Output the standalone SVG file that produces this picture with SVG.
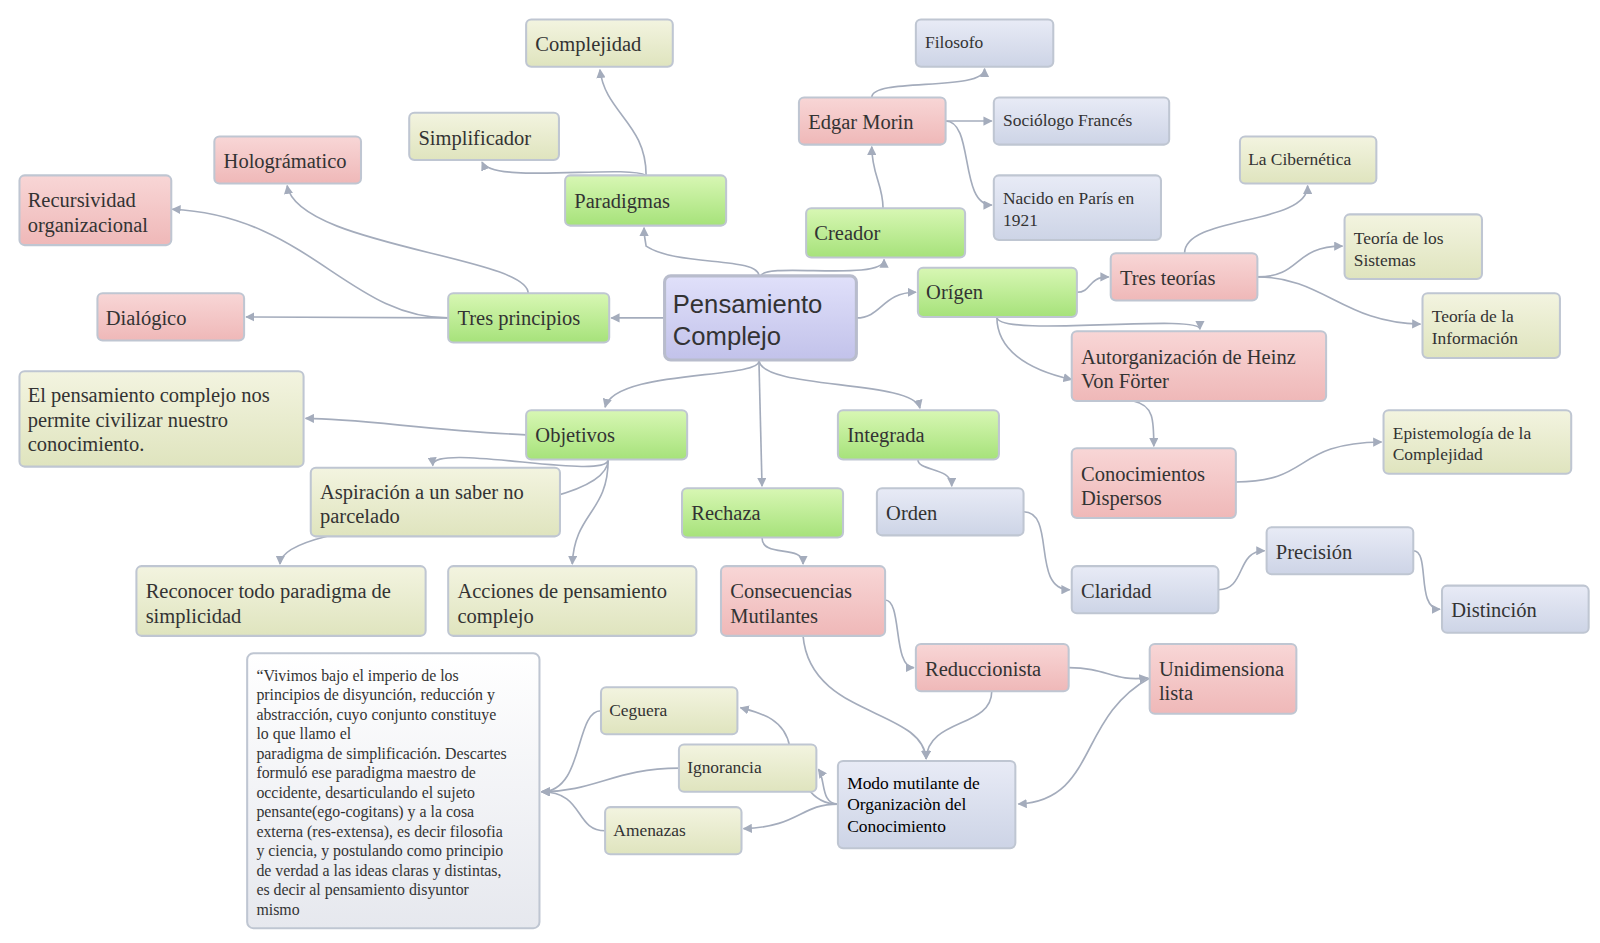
<svg xmlns="http://www.w3.org/2000/svg" width="1600" height="943" viewBox="0 0 1600 943">
<defs>
<linearGradient id="gG" x1="0" y1="0" x2="0" y2="1"><stop offset="0" stop-color="#d8f7b4"/><stop offset="1" stop-color="#a6e27a"/></linearGradient>
<linearGradient id="gP" x1="0" y1="0" x2="0" y2="1"><stop offset="0" stop-color="#f8d6d6"/><stop offset="1" stop-color="#efb8b8"/></linearGradient>
<linearGradient id="gY" x1="0" y1="0" x2="0" y2="1"><stop offset="0" stop-color="#f3f4e0"/><stop offset="1" stop-color="#dfe4be"/></linearGradient>
<linearGradient id="gB" x1="0" y1="0" x2="0" y2="1"><stop offset="0" stop-color="#e8ebf6"/><stop offset="1" stop-color="#cdd4e6"/></linearGradient>
<linearGradient id="gC" x1="0" y1="0" x2="0" y2="1"><stop offset="0" stop-color="#e0e0fa"/><stop offset="1" stop-color="#c2c2ea"/></linearGradient>
<linearGradient id="gW" x1="0" y1="0" x2="0" y2="1"><stop offset="0" stop-color="#ffffff"/><stop offset="1" stop-color="#e6e8ee"/></linearGradient>
<marker id="a" viewBox="0 0 10 10" refX="9" refY="5" markerWidth="9" markerHeight="9" orient="auto" markerUnits="userSpaceOnUse"><path d="M0,0 L10,5 L0,10 Z" fill="#a4acbc"/></marker>
</defs>
<style>
rect{stroke:#bfc6d2;stroke-width:2}
.g{fill:url(#gG)}.p{fill:url(#gP)}.y{fill:url(#gY)}.b{fill:url(#gB)}.c{fill:url(#gC);stroke:#b8bccc;stroke-width:3}.w{fill:url(#gW)}
text{font-family:"Liberation Serif",serif;fill:#333;font-size:20px}
.s{font-size:17px}.q{font-size:15.5px}
#conn path{fill:none;stroke:#a4acbc;stroke-width:1.6;marker-end:url(#a)}
</style>
<rect width="1600" height="943" fill="#fff" style="stroke:none"/>
<g transform="scale(1.0256)">
<g id="conn">
<path d="M740,269 C740,250 660,260 630,240 C628,230 628,225 628,222"/>
<path d="M742,269 C745,255 862,275 862,253"/>
<path d="M835,310 C860,310 860,285 893,285"/>
<path d="M648,310 C620,310 615,310 596,310"/>
<path d="M740,352 C740,370 600,360 590,397"/>
<path d="M740,352 L743,474"/>
<path d="M740,352 C745,380 890,370 897,398"/>
<path d="M630,171 C630,120 590,110 585,68"/>
<path d="M630,171 C610,160 480,180 470,158"/>
<path d="M515,286 C515,250 290,240 280,181"/>
<path d="M437,310 C340,310 300,210 168,204"/>
<path d="M437,310 L240,309"/>
<path d="M861,203 C861,180 850,170 850,143"/>
<path d="M850,95 C850,75 960,90 960,67"/>
<path d="M922,118 L967,118"/>
<path d="M922,118 C950,118 935,200 967,200"/>
<path d="M1050,285 C1065,285 1060,270 1081,270"/>
<path d="M972,309 C972,330 1170,305 1170,321"/>
<path d="M972,309 C972,340 1000,360 1045,370"/>
<path d="M1155,247 C1155,210 1275,220 1275,181"/>
<path d="M1226,270 C1270,270 1260,240 1309,240"/>
<path d="M1226,270 C1290,270 1310,315 1385,316"/>
<path d="M1105,391 C1125,395 1125,410 1125,435"/>
<path d="M1205,470 C1280,470 1260,432 1347,431"/>
<path d="M513,424 C420,420 350,408 298,408"/>
<path d="M593,448 C593,470 420,430 422,454"/>
<path d="M593,448 C593,510 275,500 273,550"/>
<path d="M593,448 C593,500 560,500 558,550"/>
<path d="M895,448 C895,460 928,455 928,474"/>
<path d="M998,499 C1030,499 1005,575 1043,575"/>
<path d="M1188,575 C1215,575 1205,537 1233,537"/>
<path d="M1378,537 C1395,537 1380,594 1404,594"/>
<path d="M743,524 C743,545 783,530 783,550"/>
<path d="M863,585 C880,585 870,651 891,651"/>
<path d="M783,620 C790,700 900,690 903,740"/>
<path d="M967,674 C967,710 905,700 903,740"/>
<path d="M1042,651 C1080,651 1085,665 1119,661"/>
<path d="M1121,661 C1050,700 1070,780 993,784"/>
<path d="M817,784 C790,784 780,760 770,728 C765,700 740,695 722,690"/>
<path d="M817,784 C800,784 805,760 798,750"/>
<path d="M817,784 C780,784 780,806 725,808"/>
<path d="M586,693 C560,693 570,772 528,772"/>
<path d="M662,749 C600,749 580,772 528,772"/>
<path d="M590,810 C560,810 570,772 528,772"/>
</g>
<g id="n-complejidad"><rect class="y" x="513" y="19" width="143" height="46" rx="5"/><text x="522" y="50">Complejidad</text></g>
<g id="n-simplificador"><rect class="y" x="399" y="110" width="146" height="46" rx="5"/><text x="408" y="141">Simplificador</text></g>
<g id="n-holo"><rect class="p" x="209" y="133" width="143" height="46" rx="5"/><text x="218" y="164">Holográmatico</text></g>
<g id="n-recur"><rect class="p" x="19" y="171" width="148" height="68" rx="5"/><text x="27" y="202">Recursividad</text><text x="27" y="226">organizacional</text></g>
<g id="n-paradigmas"><rect class="g" x="551" y="171" width="157" height="49" rx="5"/><text x="560" y="203">Paradigmas</text></g>
<g id="n-edgar"><rect class="p" x="779" y="95" width="143" height="46" rx="5"/><text x="788" y="126">Edgar Morin</text></g>
<g id="n-filosofo"><rect class="b" x="893" y="19" width="134" height="46" rx="5"/><text class="s" x="902" y="47">Filosofo</text></g>
<g id="n-sociologo"><rect class="b" x="969" y="95" width="171" height="46" rx="5"/><text class="s" x="978" y="123">Sociólogo Francés</text></g>
<g id="n-nacido"><rect class="b" x="969" y="171" width="163" height="63" rx="5"/><text class="s" x="978" y="199">Nacido en París en</text><text class="s" x="978" y="220">1921</text></g>
<g id="n-creador"><rect class="g" x="786" y="203" width="155" height="48" rx="5"/><text x="794" y="234">Creador</text></g>
<g id="n-tresteorias"><rect class="p" x="1083" y="247" width="143" height="46" rx="5"/><text x="1092" y="278">Tres teorías</text></g>
<g id="n-ciber"><rect class="y" x="1209" y="133" width="133" height="46" rx="5"/><text class="s" x="1217" y="161">La Cibernética</text></g>
<g id="n-sistemas"><rect class="y" x="1311" y="209" width="134" height="63" rx="5"/><text class="s" x="1320" y="238">Teoría de los</text><text class="s" x="1320" y="259">Sistemas</text></g>
<g id="n-info"><rect class="y" x="1387" y="286" width="134" height="63" rx="5"/><text class="s" x="1396" y="314">Teoría de la</text><text class="s" x="1396" y="335">Información</text></g>
<g id="n-dialogico"><rect class="p" x="95" y="286" width="143" height="46" rx="5"/><text x="103" y="317">Dialógico</text></g>
<g id="n-tresprin"><rect class="g" x="437" y="286" width="157" height="48" rx="5"/><text x="446" y="317">Tres principios</text></g>
<g id="n-center"><rect class="c" x="648" y="269" width="187" height="82" rx="6"/><text x="656" y="305" style="font-family:'Liberation Sans',Arial,sans-serif;font-size:25px">Pensamiento</text><text x="656" y="336" style="font-family:'Liberation Sans',Arial,sans-serif;font-size:25px">Complejo</text></g>
<g id="n-origen"><rect class="g" x="895" y="261" width="155" height="48" rx="5"/><text x="903" y="292">Orígen</text></g>
<g id="n-autorg"><rect class="p" x="1045" y="323" width="248" height="68" rx="5"/><text x="1054" y="355">Autorganización de Heinz</text><text x="1054" y="378">Von Förter</text></g>
<g id="n-episte"><rect class="y" x="1349" y="400" width="183" height="62" rx="5"/><text class="s" x="1358" y="428">Epistemología de la</text><text class="s" x="1358" y="449">Complejidad</text></g>
<g id="n-conoc"><rect class="p" x="1045" y="437" width="160" height="68" rx="5"/><text x="1054" y="469">Conocimientos</text><text x="1054" y="492">Dispersos</text></g>
<g id="n-elpens"><rect class="y" x="19" y="362" width="277" height="93" rx="5"/><text x="27" y="392">El pensamiento complejo nos</text><text x="27" y="416">permite civilizar nuestro</text><text x="27" y="440">conocimiento.</text></g>
<g id="n-objetivos"><rect class="g" x="513" y="400" width="157" height="48" rx="5"/><text x="522" y="431">Objetivos</text></g>
<g id="n-integrada"><rect class="g" x="817" y="400" width="157" height="48" rx="5"/><text x="826" y="431">Integrada</text></g>
<g id="n-aspira"><rect class="y" x="303" y="456" width="243" height="67" rx="5"/><text x="312" y="487">Aspiración a un saber no</text><text x="312" y="510">parcelado</text></g>
<g id="n-orden"><rect class="b" x="855" y="476" width="143" height="46" rx="5"/><text x="864" y="507">Orden</text></g>
<g id="n-rechaza"><rect class="g" x="665" y="476" width="157" height="48" rx="5"/><text x="674" y="507">Rechaza</text></g>
<g id="n-reconocer"><rect class="y" x="133" y="552" width="282" height="68" rx="5"/><text x="142" y="583">Reconocer todo paradigma de</text><text x="142" y="607">simplicidad</text></g>
<g id="n-acciones"><rect class="y" x="437" y="552" width="242" height="68" rx="5"/><text x="446" y="583">Acciones de pensamiento</text><text x="446" y="607">complejo</text></g>
<g id="n-consec"><rect class="p" x="703" y="552" width="160" height="68" rx="5"/><text x="712" y="583">Consecuencias</text><text x="712" y="607">Mutilantes</text></g>
<g id="n-claridad"><rect class="b" x="1045" y="552" width="143" height="46" rx="5"/><text x="1054" y="583">Claridad</text></g>
<g id="n-precision"><rect class="b" x="1235" y="514" width="143" height="46" rx="5"/><text x="1244" y="545">Precisión</text></g>
<g id="n-distincion"><rect class="b" x="1406" y="571" width="143" height="46" rx="5"/><text x="1415" y="602">Distinción</text></g>
<g id="n-reducc"><rect class="p" x="893" y="628" width="149" height="46" rx="5"/><text x="902" y="659">Reduccionista</text></g>
<g id="n-unidim"><rect class="p" x="1121" y="628" width="143" height="68" rx="5"/><text x="1130" y="659">Unidimensiona</text><text x="1130" y="683">lista</text></g>
<g id="n-quote"><rect class="w" x="241" y="637" width="285" height="268" rx="6"/>
<text class="q"><tspan x="250" y="664">“Vivimos bajo el imperio de los</tspan><tspan x="250" y="683">principios de disyunción, reducción y</tspan><tspan x="250" y="702">abstracción, cuyo conjunto constituye</tspan><tspan x="250" y="721">lo que llamo el</tspan><tspan x="250" y="740">paradigma de simplificación. Descartes</tspan><tspan x="250" y="759">formuló ese paradigma maestro de</tspan><tspan x="250" y="778">occidente, desarticulando el sujeto</tspan><tspan x="250" y="797">pensante(ego-cogitans) y a la cosa</tspan><tspan x="250" y="816">externa (res-extensa), es decir filosofia</tspan><tspan x="250" y="835">y ciencia, y postulando como principio</tspan><tspan x="250" y="854">de verdad a las ideas claras y distintas,</tspan><tspan x="250" y="873">es decir al pensamiento disyuntor</tspan><tspan x="250" y="892">mismo</tspan></text></g>
<g id="n-ceguera"><rect class="y" x="586" y="670" width="133" height="46" rx="5"/><text class="s" x="594" y="698">Ceguera</text></g>
<g id="n-ignor"><rect class="y" x="662" y="726" width="134" height="46" rx="5"/><text class="s" x="670" y="754">Ignorancia</text></g>
<g id="n-amen"><rect class="y" x="590" y="787" width="133" height="46" rx="5"/><text class="s" x="598" y="815">Amenazas</text></g>
<g id="n-modo"><rect class="b" x="817" y="742" width="173" height="85" rx="5"/><text class="s" x="826" y="769" style="fill:#000">Modo mutilante de</text><text class="s" x="826" y="790" style="fill:#000">Organizaciòn del</text><text class="s" x="826" y="811" style="fill:#000">Conocimiento</text></g>
</g>
</svg>
